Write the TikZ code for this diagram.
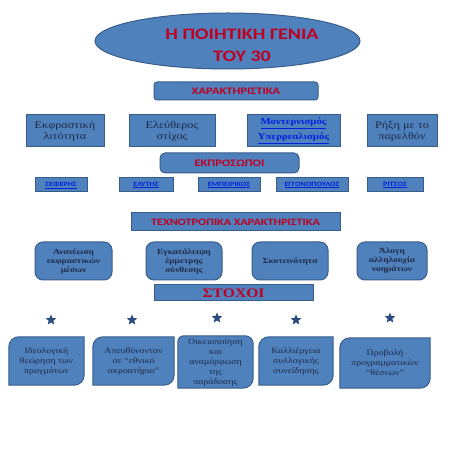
\documentclass[tikz,border=0pt]{standalone}
\usepackage{fontspec}
\setmainfont{Liberation Serif}
\newfontfamily\calfont[FakeStretch=1.25]{Carlito}
\newfontfamily\widefont[FakeStretch=1.2]{Liberation Serif}
\usetikzlibrary{shapes.geometric, backgrounds}
\definecolor{boxblue}{HTML}{4F81BD}
\definecolor{edgeblue}{HTML}{385D8A}
\definecolor{titlered}{RGB}{192,0,32}
\definecolor{darktext}{HTML}{1F2A44}
\definecolor{linkblue}{HTML}{0020E0}
\definecolor{starblue}{HTML}{2B4C7E}

\begin{document}
\begin{tikzpicture}[x=1pt, y=1pt,
    bluebox/.style={draw=edgeblue, fill=boxblue, line width=1pt, inner sep=0pt},
    headbox/.style={bluebox, font=\calfont\bfseries, text=titlered},
    featbox/.style={bluebox, font=\widefont\fontsize{10.2}{11}\selectfont, text=darktext, align=center},
    namebox/.style={bluebox, font=\calfont\bfseries\fontsize{6.5}{8}\selectfont, text=linkblue},
    techbox/.style={bluebox, rounded corners=8pt, font=\widefont\bfseries\fontsize{7.8}{9}\selectfont, text=darktext, align=center},
    goaltext/.style={inner sep=0pt, font=\widefont\fontsize{8.2}{10}\selectfont, text=darktext, align=center},
    goalbox/.style={draw=edgeblue, fill=boxblue, line width=1pt},
    aim/.style={star, star points=5, star point ratio=2.2, fill=starblue, inner sep=0pt, minimum size=11pt}]

        \begin{scope}[on background layer]
            \fill[white] (0,0) rectangle (453,453);
        \end{scope}
        \useasboundingbox (0,0) rectangle (453,453);

        % title
        \node[ellipse, draw=edgeblue, fill=boxblue, line width=1pt, minimum width=265pt, minimum height=56pt] (genia) at (227.5,412) {};
        \node[font=\calfont\bfseries\fontsize{16}{22}\selectfont, text=titlered, align=center] (titlos) at (242,408) {Η ΠΟΙΗΤΙΚΗ ΓΕΝΙΑ\\ΤΟΥ 30};

        % characteristics
        \node[headbox, rounded corners=3pt, minimum width=164pt, minimum height=18pt, font=\calfont\bfseries\fontsize{10}{12}\selectfont] (xarakt) at (236,362) {ΧΑΡΑΚΤΗΡΙΣΤΙΚΑ};

        \node[featbox, minimum width=78pt, minimum height=32pt] (lit) at (65,322) {Εκφραστική\\λιτότητα};
        \node[featbox, minimum width=86pt, minimum height=32pt] (stixos) at (172,322) {Ελεύθερος\\στίχος};
        \node[featbox, minimum width=93pt, minimum height=32pt, text=linkblue, font=\widefont\bfseries\fontsize{9}{15}\selectfont] (modern) at (293.5,322) {\underline{Μοντερνισμός}\\\underline{Υπερρεαλισμός}};
        \node[featbox, minimum width=70pt, minimum height=32pt] (rixi) at (402,322) {Ρήξη με το\\παρελθόν};

        % representatives
        \node[headbox, rounded corners=5pt, minimum width=139pt, minimum height=20pt, font=\calfont\bfseries\fontsize{10}{12}\selectfont] (ekpr) at (229.5,290) {ΕΚΠΡΟΣΩΠΟΙ};

        \node[namebox, minimum width=52pt, minimum height=14pt] (seferis) at (61,268) {\underline{ΣΕΦΕΡΗΣ}};
        \node[namebox, minimum width=54pt, minimum height=14pt] (elytis) at (146,268) {\underline{ΕΛΥΤΗΣ}};
        \node[namebox, minimum width=62pt, minimum height=14pt] (empeirikos) at (229,268) {\underline{ΕΜΠΕΙΡΙΚΟΣ}};
        \node[namebox, minimum width=72pt, minimum height=14pt] (eggonopoulos) at (312,268) {\underline{ΕΓΓΟΝΟΠΟΥΛΟΣ}};
        \node[namebox, minimum width=56pt, minimum height=14pt] (ritsos) at (395,268) {\underline{ΡΙΤΣΟΣ}};

        % technique
        \node[headbox, minimum width=209pt, minimum height=18pt, font=\calfont\bfseries\fontsize{9.7}{12}\selectfont] (texno) at (235.5,231) {ΤΕΧΝΟΤΡΟΠΙΚΑ ΧΑΡΑΚΤΗΡΙΣΤΙΚΑ};

        \node[techbox, minimum width=77pt, minimum height=38pt] (ananeosi) at (73.5,192) {Ανανέωση\\εκφραστικών\\μέσων};
        \node[techbox, minimum width=76pt, minimum height=38pt] (egkatal) at (184,192) {Εγκατάλειψη\\έμμετρης\\σύνθεσης};
        \node[techbox, minimum width=76pt, minimum height=38pt] (skot) at (290,192) {Σκοτεινότητα};
        \node[techbox, minimum width=70pt, minimum height=38pt] (alogi) at (392,192) {Άλογη\\αλληλουχία\\νοημάτων};

        % aims
        \node[headbox, minimum width=159pt, minimum height=16pt, font=\widefont\bfseries\fontsize{13}{14}\selectfont] (stoxoi) at (233.5,160) {ΣΤΟΧΟΙ};

        \node[aim] (s1) at (51,133) {};
        \node[aim] (s2) at (132,133) {};
        \node[aim] (s3) at (217,135) {};
        \node[aim] (s4) at (296,133) {};
        \node[aim] (s5) at (390,135) {};

        \node[goaltext, minimum width=75pt, minimum height=48pt] (g1) at (46.5,92) {Ιδεολογική\\θεώρηση των\\πραγμάτων};
        \node[goaltext, minimum width=81pt, minimum height=48pt] (g2) at (133.5,92) {Απευθύνονταν\\σε “εθνικό\\ακροατήριο”};
        \node[goaltext, minimum width=75pt, minimum height=52pt] (g3) at (215.5,91) {Οικειοποίηση\\και\\αναμόρφωση\\της\\παράδοσης};
        \node[goaltext, minimum width=74pt, minimum height=48pt] (g4) at (296,92) {Καλλιέργεια\\συλλογικής\\συνείδησης};
        \node[goaltext, minimum width=90pt, minimum height=50pt] (g5) at (385,90) {Προβολή\\προγραμματικών\\“θέσεων”};

        \begin{scope}[on background layer]
            \draw[goalbox] (g1.south west) -- ([yshift=-10pt]g1.north west) arc[start angle=180, end angle=90, radius=10pt] -- (g1.north east) -- ([yshift=10pt]g1.south east) arc[start angle=0, end angle=-90, radius=10pt] -- cycle;
            \draw[goalbox] (g2.south west) -- ([yshift=-10pt]g2.north west) arc[start angle=180, end angle=90, radius=10pt] -- (g2.north east) -- ([yshift=10pt]g2.south east) arc[start angle=0, end angle=-90, radius=10pt] -- cycle;
            \draw[goalbox] (g3.south west) -- ([yshift=-6pt]g3.north west) arc[start angle=180, end angle=90, radius=6pt] -- ([xshift=-8pt]g3.north east) arc[start angle=90, end angle=0, radius=8pt] -- ([yshift=10pt]g3.south east) arc[start angle=0, end angle=-90, radius=10pt] -- cycle;
            \draw[goalbox] (g4.south west) -- ([yshift=-10pt]g4.north west) arc[start angle=180, end angle=90, radius=10pt] -- (g4.north east) -- ([yshift=10pt]g4.south east) arc[start angle=0, end angle=-90, radius=10pt] -- cycle;
            \draw[goalbox] (g5.south west) -- ([yshift=-10pt]g5.north west) arc[start angle=180, end angle=90, radius=10pt] -- (g5.north east) -- ([yshift=10pt]g5.south east) arc[start angle=0, end angle=-90, radius=10pt] -- cycle;
        \end{scope}
    \end{tikzpicture}
\end{document}
